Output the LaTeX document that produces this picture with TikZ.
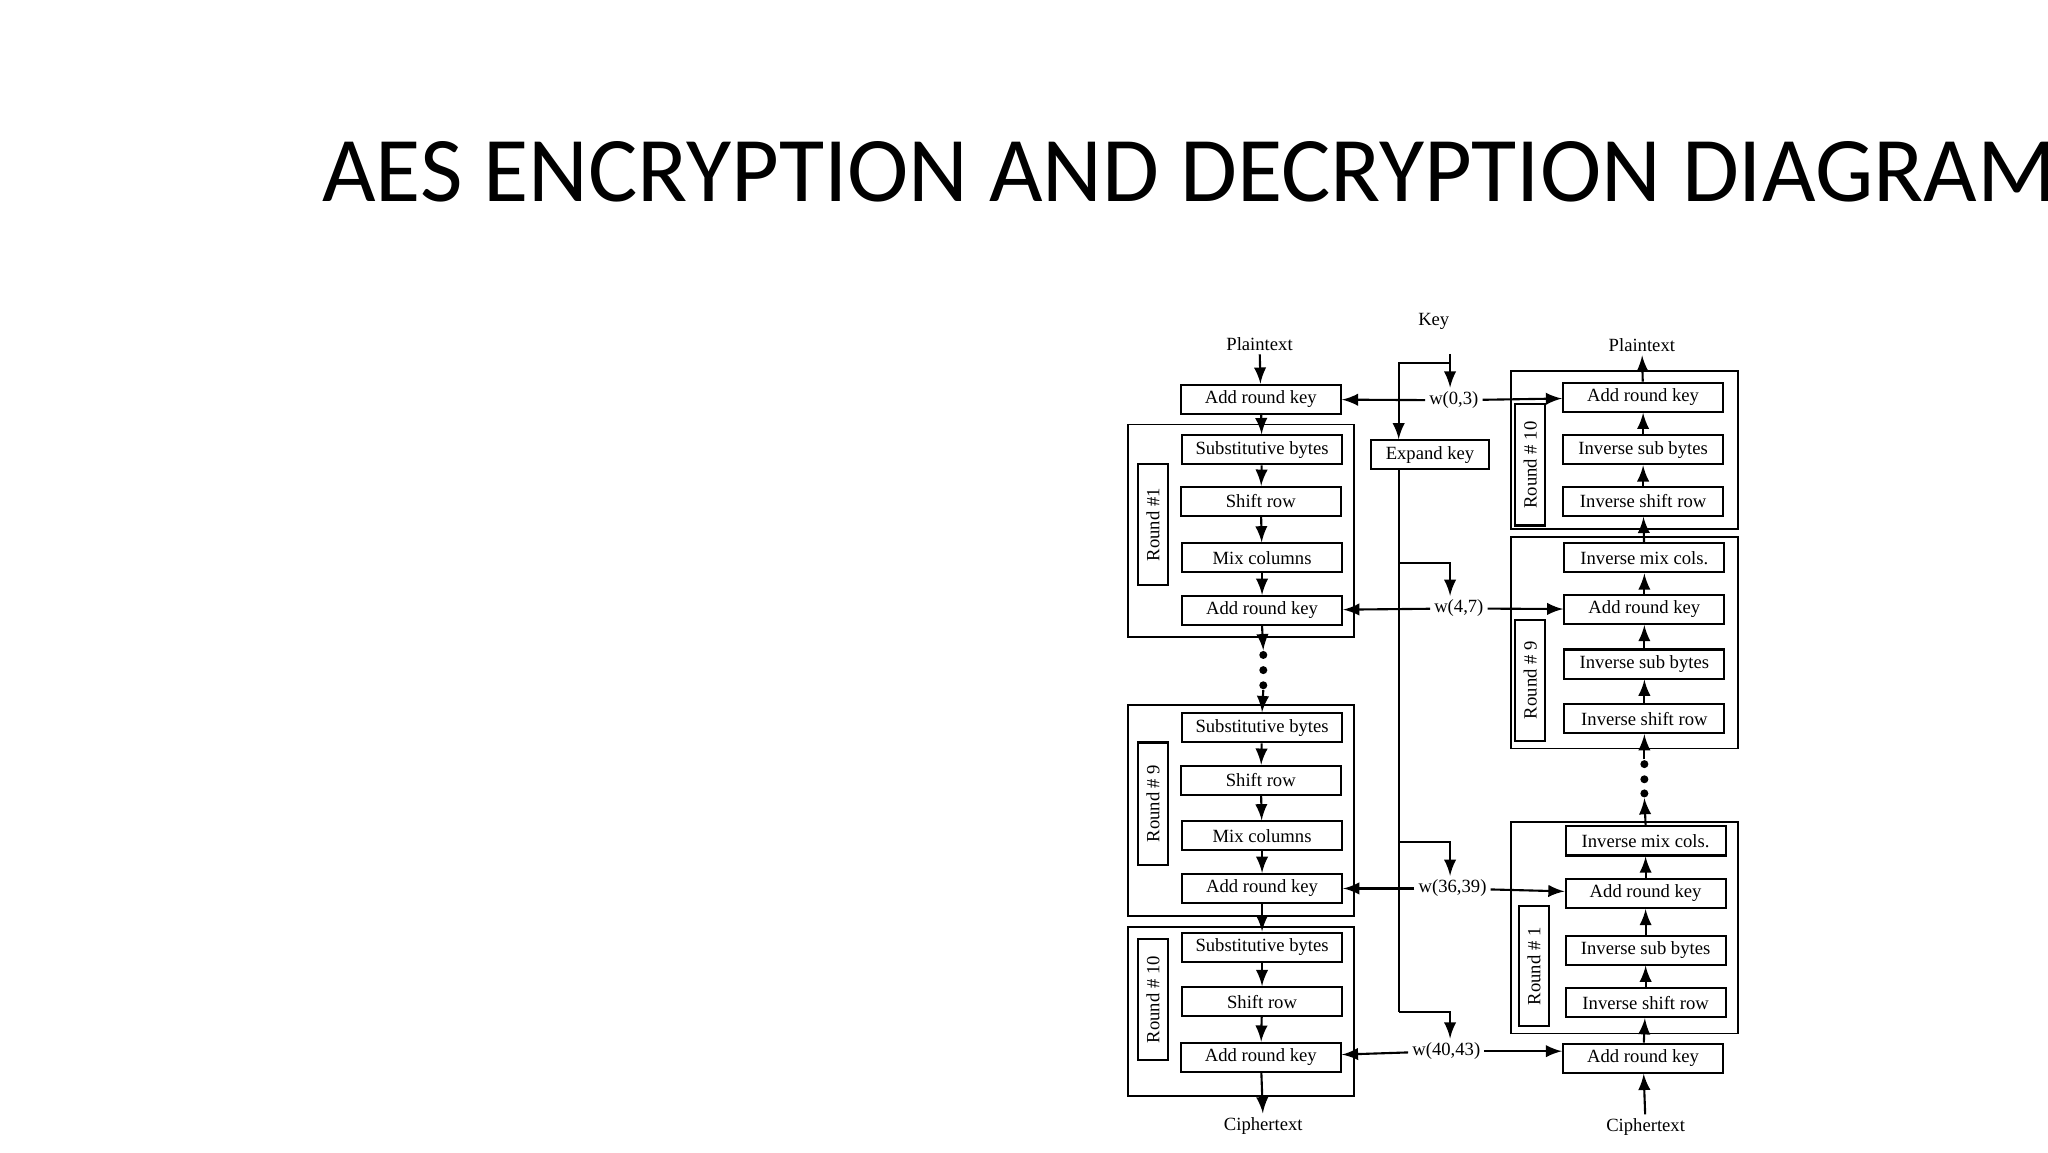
\documentclass[tikz,border=0pt]{standalone}
\usepackage{fontspec}
\setmainfont{Liberation Serif}
\newfontfamily\titlefont{Carlito}
\usetikzlibrary{arrows}
\tikzstyle{stage} = [rectangle, minimum width=1.60cm, minimum height=0.29cm, inner sep=0pt, draw=black, line width=0.6pt, font=\fontsize{5.3}{6}\selectfont]
\tikzstyle{frame} = [rectangle, inner sep=0pt, draw=black, line width=0.5pt]
\tikzstyle{tag} = [rectangle, minimum height=0.30cm, inner sep=0pt, draw=black, line width=0.6pt, rotate=90, font=\fontsize{5.3}{6}\selectfont]
\tikzstyle{lbl} = [inner sep=1pt, font=\fontsize{5.3}{6}\selectfont]
\tikzstyle{arrow} = [line width=0.6pt,->,>=latex]
\tikzstyle{blob} = [circle, fill=black, inner sep=0pt, minimum size=0.08cm]
\begin{document}
\begin{tikzpicture}[x=0.012535cm, y=-0.0101cm]
    \useasboundingbox (-145.8,0) rectangle (1488,1140.6);

    % Title
    \node (title) at (803,170) {\titlefont\fontsize{26.3}{30}\selectfont AES ENCRYPTION AND DECRYPTION DIAGRAM};

    % Round frames
    \node (eR1) [frame, minimum width=2.26cm, minimum height=2.12cm] at (844,525) {};
    \node (eR9) [frame, minimum width=2.26cm, minimum height=2.11cm] at (844,802) {};
    \node (eR10) [frame, minimum width=2.26cm, minimum height=1.69cm] at (844,1001) {};
    \node (dR10) [frame, minimum width=2.27cm, minimum height=1.58cm] at (1150,445) {};
    \node (dR9) [frame, minimum width=2.27cm, minimum height=2.11cm] at (1150,636) {};
    \node (dR1) [frame, minimum width=2.27cm, minimum height=2.11cm] at (1150,918) {};

    % Round tags
    \node (eT1) [tag, minimum width=1.21cm] at (774,519) {Round \#1};
    \node (eT9) [tag, minimum width=1.22cm] at (774,795) {Round \# 9};
    \node (eT10) [tag, minimum width=1.21cm] at (774,989) {Round \# 10};
    \node (dT10) [tag, minimum width=1.21cm] at (1075,460) {Round \# 10};
    \node (dT9) [tag, minimum width=1.21cm] at (1075,673) {Round \# 9};
    \node (dT1) [tag, minimum width=1.20cm] at (1078,956) {Round \# 1};

    % Encryption
    \node (ePlain) [lbl] at (859,340) {Plaintext};
    \node (eArk0) [stage] at (860,395) {Add round key};
    \node (eSb1) [stage] at (861,445) {Substitutive bytes};
    \node (eSr1) [stage] at (860,496) {Shift row};
    \node (eMc1) [stage] at (861,552) {Mix columns};
    \node (eArk1) [stage] at (861,604) {Add round key};
    \node (eSb9) [stage] at (861,720) {Substitutive bytes};
    \node (eSr9) [stage] at (860,772) {Shift row};
    \node (eMc9) [stage] at (861,827) {Mix columns};
    \node (eArk9) [stage] at (861,879) {Add round key};
    \node (eSb10) [stage] at (861,937) {Substitutive bytes};
    \node (eSr10) [stage] at (861,991) {Shift row};
    \node (eArk10) [stage] at (860,1046) {Add round key};
    \node (eCipher) [lbl] at (862,1114) {Ciphertext};

    % Key schedule
    \node (key) [lbl] at (998,318) {Key};
    \node (expand) [stage, minimum width=1.18cm] at (995,450) {Expand key};
    \node (w0) [lbl] at (1014,396) {w(0,3)};
    \node (w4) [lbl] at (1018,602) {w(4,7)};
    \node (w36) [lbl] at (1013,879) {w(36,39)};
    \node (w40) [lbl] at (1008,1040) {w(40,43)};
    \coordinate (kTop) at (1011,350);
    \coordinate (kSplit) at (1011,359);
    \coordinate (kBend) at (970,359);
    \coordinate (kEnd) at (970,1001);

    % Decryption
    \node (dPlain) [lbl] at (1164,341) {Plaintext};
    \node (dArk10) [stage] at (1165,393) {Add round key};
    \node (dIsb10) [stage] at (1165,445) {Inverse sub bytes};
    \node (dIsr10) [stage] at (1165,496) {Inverse shift row};
    \node (dImc9) [stage] at (1166,552) {Inverse mix cols.};
    \node (dArk9) [stage] at (1166,603) {Add round key};
    \node (dIsb9) [stage] at (1166,657) {Inverse sub bytes};
    \node (dIsr9) [stage] at (1166,711) {Inverse shift row};
    \node (dImc1) [stage] at (1167,832) {Inverse mix cols.};
    \node (dArk1) [stage] at (1167,884) {Add round key};
    \node (dIsb1) [stage] at (1167,940) {Inverse sub bytes};
    \node (dIsr1) [stage] at (1167,992) {Inverse shift row};
    \node (dArk0) [stage] at (1165,1047) {Add round key};
    \node (dCipher) [lbl] at (1167,1115) {Ciphertext};

    % Dots
    \node (eD1) [blob] at (862,648) {};
    \node (eD2) [blob] at (862,663) {};
    \node (eD3) [blob] at (862,678) {};
    \node (dD1) [blob] at (1166,756) {};
    \node (dD2) [blob] at (1166,771) {};
    \node (dD3) [blob] at (1166,785) {};

    % Encryption arrows
    \draw [arrow] (ePlain) -- (eArk0);
    \draw [arrow] (eArk0) -- (eSb1);
    \draw [arrow] (eSb1) -- (eSr1);
    \draw [arrow] (eSr1) -- (eMc1);
    \draw [arrow] (eMc1) -- (eArk1);
    \draw [arrow] (eArk1.south) -- (eD1.north);
    \draw [arrow] (eD3.south) -- (eSb9.north);
    \draw [arrow] (eSb9) -- (eSr9);
    \draw [arrow] (eSr9) -- (eMc9);
    \draw [arrow] (eMc9) -- (eArk9);
    \draw [arrow] (eArk9) -- (eSb10);
    \draw [arrow] (eSb10) -- (eSr10);
    \draw [arrow] (eSr10) -- (eArk10);
    \draw [arrow] (eArk10) -- (eCipher);

    % Key arrows
    \draw [arrow] (kTop) -- (kSplit) -- (w0.north -| kTop);
    \draw [arrow] (kSplit) -- (kBend) -- (expand.north -| kBend);
    \draw [line width=0.6pt] (expand.south -| kBend) -- (kEnd);
    \draw [arrow] (kBend |- 0,557) -| (w4.north -| kTop);
    \draw [arrow] (kBend |- 0,833) -| (w36.north -| kTop);
    \draw [arrow] (kBend |- 0,1001) -| (w40.north -| kTop);
    \draw [arrow] (w0) -- (eArk0);
    \draw [arrow] (w0) -- (dArk10);
    \draw [arrow] (w4) -- (eArk1);
    \draw [arrow] (w4) -- (dArk9);
    \draw [arrow] (w36) -- (eArk9);
    \draw [arrow] (w36) -- (dArk1);
    \draw [arrow] (w40) -- (eArk10);
    \draw [arrow] (w40) -- (dArk0.west |- w40);

    % Decryption arrows
    \draw [arrow] (dCipher) -- (dArk0);
    \draw [arrow] (dArk0) -- (dIsr1);
    \draw [arrow] (dIsr1) -- (dIsb1);
    \draw [arrow] (dIsb1) -- (dArk1);
    \draw [arrow] (dArk1) -- (dImc1);
    \draw [arrow] (dImc1.north) -- (dD3.south);
    \draw [arrow] (dD1.north) -- (dIsr9.south);
    \draw [arrow] (dIsr9) -- (dIsb9);
    \draw [arrow] (dIsb9) -- (dArk9);
    \draw [arrow] (dArk9) -- (dImc9);
    \draw [arrow] (dImc9) -- (dIsr10);
    \draw [arrow] (dIsr10) -- (dIsb10);
    \draw [arrow] (dIsb10) -- (dArk10);
    \draw [arrow] (dArk10) -- (dPlain);

\end{tikzpicture}
\end{document}
